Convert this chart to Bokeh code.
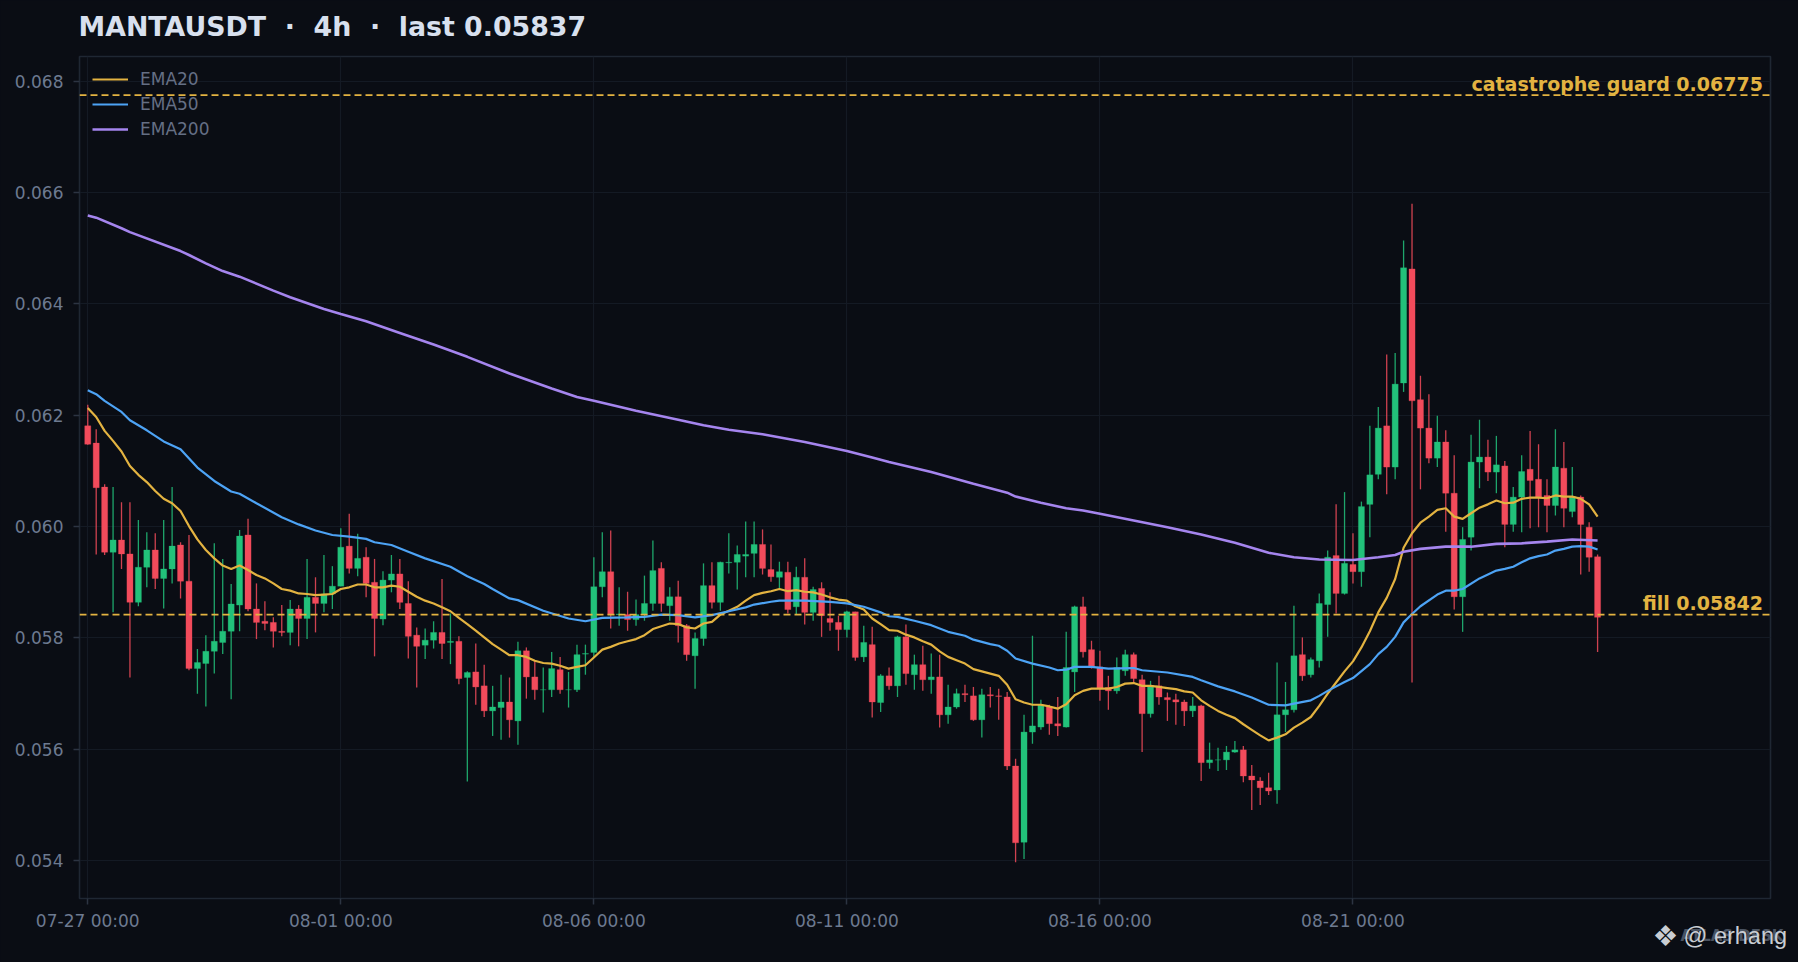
from bokeh.plotting import figure
from bokeh.layouts import column
from bokeh.models import (Range1d, FixedTicker, Label, Span, Legend, LegendItem,
                          ColumnDataSource, GlobalInlineStyleSheet)
from bokeh.embed import file_html
from bokeh.resources import INLINE
import numpy as np

# all prices are in units of 0.00001 USDT
opens = [
    6181,6150,6071,5954,5976,5951,5864,5927,5958,5907,
    5924,5967,5902,5745,5754,5776,5792,5812,5859,5985,
    5852,5830,5828,5812,5810,5852,5835,5873,5862,5879,
    5893,5965,5925,5945,5900,5834,5904,5915,5862,5805,
    5787,5796,5810,5792,5794,5729,5739,5714,5669,5675,
    5685,5651,5777,5730,5707,5707,5743,5707,5707,5771,
    5774,5892,5919,5842,5842,5833,5842,5862,5925,5858,
    5874,5822,5768,5799,5894,5864,5935,5936,5947,5952,
    5968,5923,5909,5918,5856,5909,5846,5889,5835,5828,
    5815,5847,5766,5788,5684,5732,5714,5802,5734,5752,
    5725,5730,5662,5676,5700,5696,5653,5698,5696,5694,
    5570,5433,5631,5640,5676,5646,5640,5739,5856,5779,
    5748,5711,5705,5741,5770,5725,5664,5714,5693,5689,
    5685,5669,5678,5576,5581,5581,5595,5599,5552,5543,
    5531,5527,5662,5671,5770,5734,5759,5860,5948,5880,
    5932,5919,6040,6094,6181,6107,6258,6463,6228,6177,
    6123,6152,6060,5874,5981,6116,6125,6098,6109,6004,
    6053,6103,6085,6056,6038,6105,6027,6053,5999,5946,
]
closes = [
    6148,6070,5954,5976,5951,5864,5927,5958,5907,5924,
    5965,5902,5745,5756,5776,5794,5812,5861,5983,5852,
    5828,5826,5812,5810,5852,5835,5873,5862,5879,5893,
    5963,5925,5943,5898,5835,5904,5915,5864,5803,5785,
    5796,5810,5790,5794,5727,5738,5712,5669,5676,5685,
    5653,5777,5730,5707,5707,5745,5707,5707,5770,5772,
    5892,5919,5842,5843,5833,5842,5862,5921,5862,5874,
    5822,5770,5799,5894,5864,5936,5936,5950,5950,5968,
    5925,5910,5919,5851,5909,5846,5887,5840,5828,5815,
    5847,5765,5792,5685,5732,5714,5802,5736,5752,5725,
    5730,5662,5676,5700,5698,5653,5698,5696,5695,5570,
    5432,5631,5642,5680,5646,5642,5747,5856,5775,5748,
    5709,5705,5747,5770,5727,5664,5714,5694,5689,5685,
    5669,5678,5576,5581,5581,5595,5599,5552,5545,5531,
    5525,5662,5671,5768,5732,5761,5862,5945,5880,5934,
    5919,6036,6093,6177,6107,6256,6465,6226,6177,6123,
    6152,6060,5874,5977,6116,6125,6098,6111,6004,6053,
    6099,6083,6053,6038,6107,6033,6054,6004,5945,5837,
]
highs = [
    6219,6175,6076,6071,6044,6044,6012,5990,5988,6012,
    6071,5972,5985,5780,5805,5970,5942,5897,5994,6014,
    5898,5866,5837,5859,5868,5859,5942,5909,5949,5929,
    5997,6023,5987,5963,5942,5920,5949,5942,5902,5819,
    5817,5830,5906,5844,5803,5740,5790,5752,5714,5734,
    5729,5793,5783,5759,5747,5775,5766,5739,5788,5788,
    5945,5990,5993,5891,5883,5869,5912,5975,5936,5891,
    5903,5825,5810,5934,5936,5937,5988,5966,6009,6009,
    5995,5968,5937,5937,5928,5943,5892,5900,5882,5840,
    5849,5847,5822,5820,5735,5747,5804,5824,5770,5786,
    5772,5770,5716,5709,5716,5712,5709,5712,5709,5703,
    5583,5662,5804,5689,5680,5694,5811,5858,5874,5795,
    5777,5732,5765,5779,5774,5734,5723,5732,5702,5700,
    5689,5694,5680,5612,5603,5606,5615,5606,5572,5550,
    5558,5756,5721,5858,5801,5765,5880,5957,6040,6062,
    5988,6045,6181,6215,6309,6312,6514,6580,6271,6238,
    6199,6173,6128,5999,6165,6192,6156,6163,6118,6071,
    6128,6172,6148,6085,6175,6152,6107,6056,6008,5950,
]
lows = [
    6147,5950,5949,5846,5924,5729,5857,5891,5888,5853,
    5898,5871,5742,5700,5677,5736,5771,5690,5812,5848,
    5798,5814,5783,5803,5787,5785,5798,5810,5846,5852,
    5893,5916,5911,5873,5767,5823,5882,5852,5763,5711,
    5762,5781,5762,5753,5717,5542,5680,5658,5624,5617,
    5621,5608,5691,5689,5666,5694,5700,5675,5703,5734,
    5766,5873,5817,5822,5813,5822,5831,5849,5847,5831,
    5792,5759,5709,5786,5853,5849,5916,5887,5909,5909,
    5914,5901,5889,5844,5842,5824,5831,5802,5813,5777,
    5801,5759,5757,5657,5667,5707,5694,5716,5707,5705,
    5700,5639,5646,5673,5685,5651,5621,5675,5653,5563,
    5397,5403,5610,5635,5626,5624,5639,5703,5765,5745,
    5687,5671,5700,5732,5718,5595,5657,5680,5651,5644,
    5642,5658,5543,5565,5561,5563,5594,5541,5491,5500,
    5518,5502,5631,5666,5723,5729,5747,5802,5844,5878,
    5898,5892,5981,6085,6058,6085,6242,5720,6067,6114,
    6107,5991,5851,5811,5957,6069,6082,6060,5963,5991,
    5990,5997,5999,5990,6020,5999,6017,5914,5919,5775,
]
ema20 = [
    6213,6197,6172,6154,6135,6109,6093,6080,6064,6050,
    6042,6028,6001,5977,5958,5943,5930,5924,5930,5922,
    5913,5907,5898,5888,5885,5880,5879,5877,5878,5879,
    5888,5891,5896,5896,5891,5891,5894,5892,5883,5874,
    5867,5862,5855,5848,5836,5825,5813,5801,5789,5779,
    5769,5769,5766,5759,5755,5754,5750,5745,5748,5751,
    5765,5779,5784,5790,5794,5798,5805,5816,5821,5826,
    5825,5819,5817,5826,5829,5842,5849,5856,5867,5877,
    5881,5884,5888,5884,5886,5883,5882,5878,5873,5869,
    5867,5857,5851,5835,5825,5814,5813,5806,5801,5794,
    5788,5776,5766,5760,5754,5744,5740,5736,5732,5716,
    5690,5684,5680,5680,5677,5673,5681,5697,5705,5709,
    5709,5709,5712,5718,5719,5714,5714,5712,5710,5708,
    5704,5702,5688,5678,5669,5662,5656,5645,5635,5625,
    5616,5621,5627,5639,5648,5658,5678,5700,5720,5740,
    5758,5783,5812,5846,5872,5906,5962,5988,6007,6018,
    6030,6033,6018,6014,6024,6034,6040,6047,6042,6043,
    6050,6052,6052,6051,6056,6054,6054,6050,6040,6018,
]
ema50_bar = [0,1,2,4,5,7,9,11,13,15,17,18,20,23,25,27,29,31,33,34,36,38,40,43,45,47,48,50,51,54,57,59,61,64,66,68,70,72,74,76,78,79,81,82,85,88,90,92,94,95,96,98,100,102,104,105,107,108,109,110,112,114,115,116,117,119,121,124,125,128,131,132,134,136,138,140,142,143,145,146,147,149,150,152,153,154,155,156,157,158,160,161,162,163,165,167,168,169,170,171,172,173,174,175,176,177,178,179]
ema50 = [6245,6238,6226,6206,6191,6173,6153,6139,6106,6082,6063,6059,6042,6017,6004,5993,5985,5982,5978,5972,5967,5955,5943,5928,5911,5897,5888,5871,5868,5849,5835,5830,5836,5837,5838,5842,5841,5837,5841,5848,5855,5860,5865,5867,5867,5865,5862,5856,5846,5839,5838,5831,5823,5811,5804,5797,5789,5786,5777,5763,5754,5747,5742,5743,5748,5748,5745,5746,5742,5738,5730,5724,5713,5704,5693,5680,5679,5682,5688,5696,5705,5721,5728,5753,5771,5784,5802,5828,5843,5857,5878,5885,5885,5888,5907,5921,5924,5928,5936,5943,5947,5950,5957,5960,5964,5965,5964,5959]
ema200_bar = [0,1,4,5,11,12,14,16,18,22,24,28,30,33,37,41,45,50,55,58,60,65,70,73,76,80,85,90,93,95,100,105,109,110,113,116,118,120,124,128,132,136,140,143,146,150,153,155,156,158,161,164,167,170,173,176,179]
ema200 = [6559,6555,6536,6529,6495,6488,6473,6459,6449,6424,6412,6391,6382,6369,6348,6327,6305,6275,6248,6233,6226,6208,6192,6182,6174,6166,6152,6136,6124,6116,6098,6077,6061,6054,6043,6033,6029,6023,6011,5999,5986,5971,5953,5945,5941,5940,5945,5949,5955,5960,5964,5964,5969,5970,5973,5977,5975]
y_ticks = [0.054, 0.056, 0.058, 0.060, 0.062, 0.064, 0.066, 0.068]
x_tick_bars = [0, 30, 60, 90, 120, 150]
x_tick_labels = ["07-27 00:00", "08-01 00:00", "08-06 00:00", "08-11 00:00", "08-16 00:00", "08-21 00:00"]
guard_level = 0.06775
fill_level = 0.05842
title_text = "MANTAUSDT\u00a0\u00a0·\u00a0\u00a04h\u00a0\u00a0·\u00a0\u00a0last 0.05837"

BG = "#0a0d14"; UP = "#22c17a"; DOWN = "#f24b5b"; YEL = "#e3b341"; BLU = "#4da3f5"; PUR = "#a585ee"
MUT = "#6d7a90"; GRID = "#141a24"; EDGE = "#1f2733"

W, H = 1798, 962
FL, FR, FT, FB = 79, 1770, 56, 898   # frame edges in page pixels

SC = 1e-5
bars = np.arange(len(opens))
o, h, l, c = [np.array(a) * SC for a in (opens, highs, lows, closes)]
up = c >= o
src = ColumnDataSource(dict(
    x=bars, hi=h, lo=l,
    top=np.maximum(o, c), bot=np.minimum(o, c),
    col=[UP if u else DOWN for u in up],
))

p = figure(width=W, height=H, output_backend="svg", toolbar_location=None,
           x_range=Range1d(-0.98, 199.5), y_range=Range1d(0.05332, 0.068445),
           background_fill_color=BG, border_fill_color=BG,
           min_border_left=FL, min_border_right=W - FR, min_border_top=FT, min_border_bottom=H - FB,
           outline_line_color=EDGE, outline_line_width=1.6)

for ax in (p.xaxis[0], p.yaxis[0]):
    ax.axis_line_color = EDGE
    ax.major_tick_line_color = "#2c3442"
    ax.major_tick_line_width = 1.5
    ax.major_tick_out = 6
    ax.major_tick_in = 0
    ax.minor_tick_line_color = None
    ax.major_label_text_color = MUT
    ax.major_label_text_font = "DejaVu Sans"
    ax.major_label_text_font_size = "17px"
p.xaxis[0].major_label_standoff = 6
p.yaxis[0].major_label_standoff = 10
p.yaxis[0].ticker = FixedTicker(ticks=y_ticks)
p.yaxis[0].major_label_overrides = {t: f"{t:.3f}" for t in y_ticks}
p.xaxis[0].ticker = FixedTicker(ticks=x_tick_bars)
p.xaxis[0].major_label_overrides = dict(zip(x_tick_bars, x_tick_labels))
p.xgrid[0].ticker = FixedTicker(ticks=x_tick_bars)
p.ygrid[0].ticker = FixedTicker(ticks=y_ticks)
p.xgrid.grid_line_color = GRID
p.ygrid.grid_line_color = GRID
p.xgrid.grid_line_width = 1.2
p.ygrid.grid_line_width = 1.2

p.segment("x", "hi", "x", "lo", source=src, line_color="col", line_width=1.3, line_alpha=0.85)
p.vbar("x", 0.72, "bot", "top", source=src, fill_color="col", line_color="col", line_width=0.3)

r20 = p.line(bars, np.array(ema20) * SC, line_color=YEL, line_width=2.2)
r50 = p.line(ema50_bar, np.array(ema50) * SC, line_color=BLU, line_width=2.2)
r200 = p.line(ema200_bar, np.array(ema200) * SC, line_color=PUR, line_width=2.6)

for lvl in (guard_level, fill_level):
    p.add_layout(Span(location=lvl, dimension="width", line_color=YEL, line_width=1.8, line_dash="7 4"))

legend = Legend(items=[LegendItem(label="EMA20", renderers=[r20]),
                       LegendItem(label="EMA50", renderers=[r50]),
                       LegendItem(label="EMA200", renderers=[r200])],
                location="top_left", background_fill_alpha=0, border_line_color=None,
                label_text_color="#656f84", label_text_font="DejaVu Sans", label_text_font_size="17px",
                glyph_width=36, glyph_height=14, spacing=5, label_standoff=12,
                margin=13, padding=0, label_height=17)
p.add_layout(legend)

TOPX = 198.6
OFF = 0.0002
p.add_layout(Label(x=TOPX, y=guard_level + OFF, text=f"catastrophe guard {guard_level:.5f}",
                   text_align="right", text_baseline="middle", text_color=YEL,
                   text_font="DejaVu Sans", text_font_style="bold", text_font_size="19px"))
p.add_layout(Label(x=TOPX, y=fill_level + OFF, text=f"fill {fill_level:.5f}",
                   text_align="right", text_baseline="middle", text_color=YEL,
                   text_font="DejaVu Sans", text_font_style="bold", text_font_size="19px"))

# title and watermark: a transparent figure of page size laid over the chart, so that
# its frame, which clips labels, is the whole page and its data units are page pixels
page = figure(width=W, height=H, output_backend="svg", toolbar_location=None,
              x_range=Range1d(0, W), y_range=Range1d(H, 0),
              x_axis_location=None, y_axis_location=None,
              background_fill_alpha=0, border_fill_alpha=0, outline_line_color=None,
              min_border_left=0, min_border_right=0, min_border_top=0, min_border_bottom=0)
# a column lines up the frames of its figures unless told not to
try:
    p.frame_align = False
    page.frame_align = False
except AttributeError:
    pass
page.grid.visible = False
page.styles = {"position": "absolute", "left": "0px", "top": "0px", "z-index": "10",
               "pointer-events": "none"}
page.add_layout(Label(x=78, y=26.4, text=title_text, text_align="left", text_baseline="middle",
                      text_color="#d8e0ee", text_font="DejaVu Sans", text_font_style="bold",
                      text_font_size="26.8px"))
page.add_layout(Label(x=1680, y=935, text="ATLAS DESK", text_align="left", text_baseline="middle",
                      text_color="#4a5361", text_font="DejaVu Sans", text_font_style="bold",
                      text_font_size="15px"))
page.add_layout(Label(x=1665, y=935, text="❖", text_align="center", text_baseline="middle",
                      text_color="#c9cdd3", text_font="DejaVu Sans", text_font_size="29px"))
page.add_layout(Label(x=1683, y=935, text="@ erhang", text_align="left", text_baseline="middle",
                      text_color="#c9cdd3", text_font="Liberation Sans", text_font_size="23.5px"))

root = column(p, page, spacing=0)
root.stylesheets = [GlobalInlineStyleSheet(css=f"html,body{{background:{BG};overflow:hidden;}}")]

open("out.html", "w").write(file_html(root, INLINE))
